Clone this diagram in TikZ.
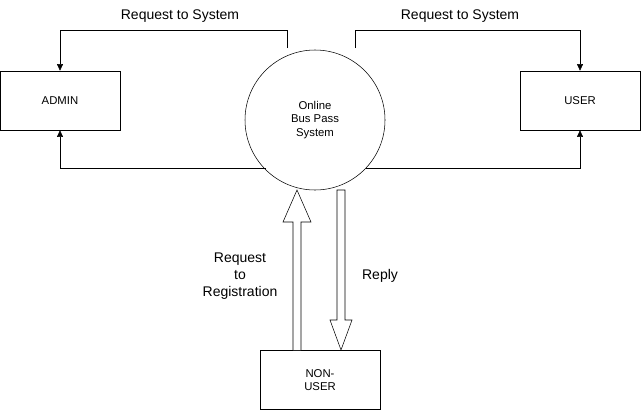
\documentclass[tikz,border=0pt]{standalone}
\usepackage{fontspec}
\setmainfont{Liberation Sans}
\usetikzlibrary{arrows.meta}
\begin{document}
\begin{tikzpicture}[x=0.75pt,y=-0.75pt,
  box/.style={draw,minimum width=90pt,minimum height=44.25pt,inner sep=0,font=\fontsize{8.5}{10}\selectfont,align=center},
  conn/.style={-{Triangle[length=5pt,width=4.5pt]}},
  lbl/.style={font=\fontsize{10.5}{12.5}\selectfont,align=center}]
\useasboundingbox (0,0) rectangle (641,411);
\node[box] (admin) at (60,100.5) {ADMIN};
\node[box] (user) at (580,100.5) {USER};
\node[box] (non) at (320,380) {NON-\\USER};
\node[draw,circle,minimum size=105pt,inner sep=0,font=\fontsize{8.5}{10}\selectfont,align=center] (sys) at (315,120) {Online\\Bus Pass\\System};
\draw[conn] (287,48) -- (287,30) -- (60,30) -- (admin.north);
\draw[conn] (355,48) -- (355,30) -- (580,30) -- (user.north);
\draw[conn] (266,168) -- (60,168) -- (admin.south);
\draw[conn] (366,168) -- (580,168) -- (user.south);
\node[lbl] (l1) at (180,16) {Request to System};
\node[lbl] (l2) at (460,16) {Request to System};
\node[lbl] (l3) at (240,276) {Request\\to\\Registration};
\node[lbl] (l4) at (380,276) {Reply};
\draw[fill=white] (293,350) -- (293,222) -- (283,222) -- (297,190) -- (311,222) -- (301,222) -- (301,350);
\draw[fill=white] (337,190) -- (337,320) -- (330,320) -- (341,350) -- (352,320) -- (345,320) -- (345,190) -- cycle;
\end{tikzpicture}
\end{document}
